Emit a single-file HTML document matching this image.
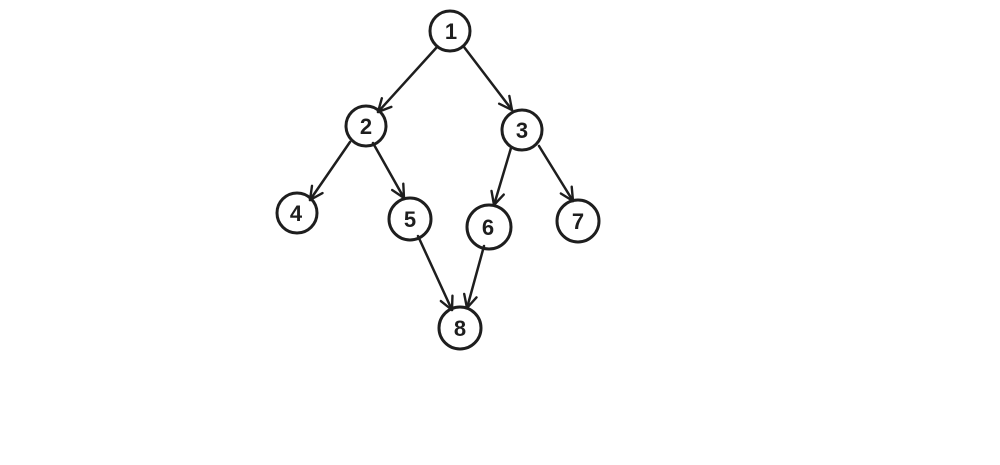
<!DOCTYPE html>
<html><head><meta charset="utf-8"><style>
html,body{margin:0;padding:0;background:#fff;width:1000px;height:465px;overflow:hidden}
svg text{font-family:"Liberation Sans",sans-serif;font-weight:bold;font-size:22px;fill:#1e1e1e}
</style></head><body>
<svg width="1000" height="465" viewBox="0 0 1000 465" xmlns="http://www.w3.org/2000/svg">
<defs>
<marker id="a" viewBox="0 0 20 20" refX="18" refY="10" markerWidth="16" markerHeight="16" markerUnits="userSpaceOnUse" orient="auto">
<path d="M2,2 L18,10 L2,18" fill="none" stroke="#1e1e1e" stroke-width="3" stroke-linecap="round" stroke-linejoin="round"/>
</marker>
</defs>
<g fill="none" stroke="#1e1e1e" stroke-width="3" stroke-linecap="round">
<circle cx="450" cy="31" r="20"/>
<circle cx="366" cy="126" r="20"/>
<circle cx="522" cy="130" r="20"/>
<circle cx="297" cy="213" r="20"/>
<circle cx="410" cy="219" r="21"/>
<circle cx="489" cy="227" r="22"/>
<circle cx="578" cy="221" r="21"/>
<circle cx="460" cy="328" r="21"/>
</g>
<g fill="none" stroke="#1e1e1e" stroke-width="2.5" stroke-linecap="round" marker-end="url(#a)">
<line x1="437" y1="47" x2="378" y2="112"/>
<line x1="464" y1="47" x2="512" y2="110"/>
<line x1="350" y1="142" x2="310" y2="200"/>
<line x1="373" y1="143" x2="404" y2="198"/>
<line x1="511" y1="148" x2="494" y2="205"/>
<line x1="539" y1="146" x2="573" y2="201"/>
<line x1="418" y1="236" x2="452" y2="310"/>
<line x1="484" y1="246" x2="467" y2="308"/>
</g>
<g text-anchor="middle">
<text x="451" y="39">1</text>
<text x="366" y="134">2</text>
<text x="522" y="138">3</text>
<text x="296" y="221">4</text>
<text x="410" y="227">5</text>
<text x="488" y="235">6</text>
<text x="578" y="229">7</text>
<text x="460" y="336">8</text>
</g>
</svg>
</body></html>
